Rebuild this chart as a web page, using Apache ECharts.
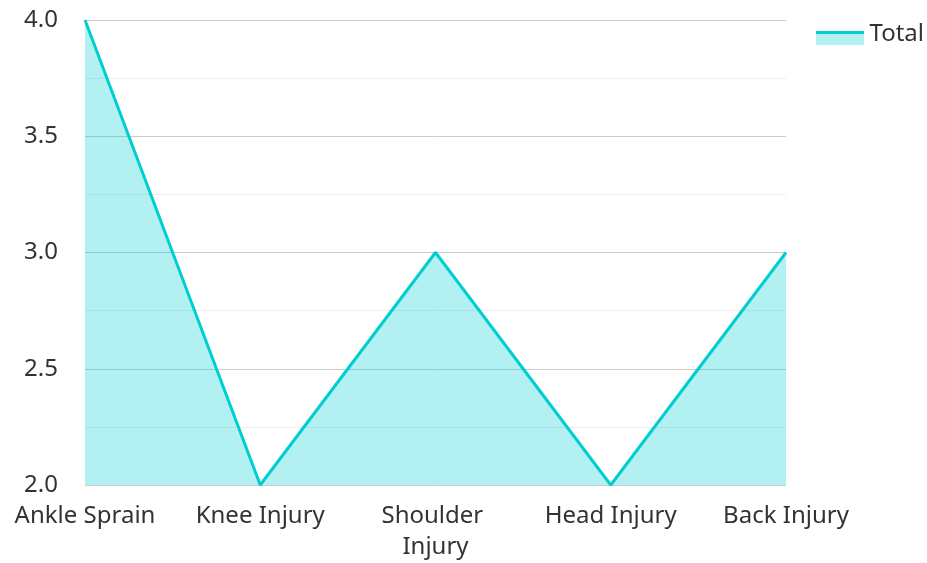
<!DOCTYPE html>
<html>
<head>
<meta charset="utf-8">
<script src="https://cdn.jsdelivr.net/npm/echarts@6/dist/echarts.min.js"></script>
<style>
  html, body { margin: 0; padding: 0; background: #fff; }
  #main { width: 927px; height: 563px; }
</style>
</head>
<body>
<div id="main"></div>
<script>
// injury types and counts
const categories = ['Ankle Sprain', 'Knee Injury', 'Shoulder Injury', 'Head Injury', 'Back Injury'];
const totalValues = [4, 2, 3, 2, 3];
const seriesName = 'Total';

const lineColor = '#00CED1';
const chart = echarts.init(document.getElementById('main'));

// legend icon = light area box + thick top line (two stacked legends)
// tiny specks in the paths pad the icon box so the swatch sits a bit below the text centre
const legendBase = {
    data: [seriesName],
    left: 811,
    top: 17,
    itemWidth: 49,
    itemHeight: 22,
    itemGap: 10,
    selectedMode: false
};

chart.setOption({
    textStyle: { fontFamily: 'Noto Sans' },
    grid: { left: 85, right: 141, top: 20, bottom: 75 },
    legend: [
        Object.assign({}, legendBase, {
            icon: 'path://M0,-8H0.01V-7.99H0Z M0,0H48V14H0Z',
            itemStyle: { color: 'rgba(0,206,209,0.3)' },
            textStyle: { fontSize: 24, color: '#333' }
        }),
        Object.assign({}, legendBase, {
            icon: 'path://M0,-8H0.01V-7.99H0Z M0,0H48V3H0Z M0,14H0.01V14.01H0Z',
            itemStyle: { color: lineColor },
            textStyle: { fontSize: 24, color: 'rgba(0,0,0,0)' }
        })
    ],
    xAxis: {
        type: 'category',
        data: categories,
        boundaryGap: false,
        axisLine: { show: false },
        axisTick: { show: false },
        axisLabel: {
            fontSize: 24,
            color: '#333',
            margin: 16,
            width: 160,
            overflow: 'break',
            interval: 0,
            lineHeight: 31
        }
    },
    yAxis: {
        type: 'value',
        min: 2,
        max: 4,
        interval: 0.5,
        axisLine: { show: false },
        axisTick: { show: false },
        axisLabel: {
            fontSize: 24,
            color: '#333',
            margin: 27,
            formatter: v => v.toFixed(1)
        },
        splitLine: { lineStyle: { color: '#ccc', width: 1 } },
        minorTick: { show: false, splitNumber: 2 },
        minorSplitLine: { show: true, lineStyle: { color: '#eee', width: 1 } }
    },
    series: [{
        name: seriesName,
        type: 'line',
        data: totalValues,
        symbol: 'none',
        lineStyle: { color: lineColor, width: 3 },
        itemStyle: { color: lineColor },
        areaStyle: { color: lineColor, opacity: 0.3 }
    }]
});
</script>
</body>
</html>
